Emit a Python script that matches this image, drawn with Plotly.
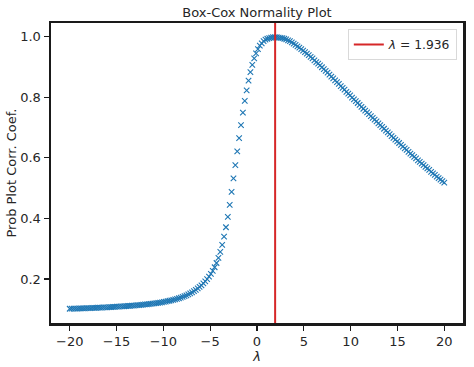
import numpy as np
import plotly.graph_objects as go

# ---- data ----
lambda_min = -20.0
lambda_max = 20.0
n_lambdas = 200
lambdas = np.linspace(lambda_min, lambda_max, n_lambdas)

ppcc = [
    0.1020, 0.1022, 0.1024, 0.1026, 0.1028, 0.1030, 0.1032, 0.1034, 0.1036, 0.1038,
    0.1041, 0.1043, 0.1046, 0.1048, 0.1051, 0.1054, 0.1057, 0.1060, 0.1063, 0.1066,
    0.1069, 0.1072, 0.1076, 0.1079, 0.1083, 0.1087, 0.1091, 0.1095, 0.1099, 0.1103,
    0.1108, 0.1112, 0.1117, 0.1122, 0.1127, 0.1132, 0.1138, 0.1143, 0.1149, 0.1155,
    0.1161, 0.1168, 0.1175, 0.1182, 0.1189, 0.1197, 0.1205, 0.1214, 0.1223, 0.1233,
    0.1245, 0.1257, 0.1270, 0.1284, 0.1298, 0.1314, 0.1330, 0.1348, 0.1367, 0.1388,
    0.1410, 0.1436, 0.1464, 0.1495, 0.1528, 0.1563, 0.1602, 0.1644, 0.1690, 0.1740,
    0.1795, 0.1855, 0.1920, 0.1995, 0.2080, 0.2170, 0.2270, 0.2390, 0.2530, 0.2700,
    0.2900, 0.3130, 0.3400, 0.3710, 0.4050, 0.4450, 0.4880, 0.5320, 0.5760, 0.6210,
    0.6650, 0.7080, 0.7490, 0.7880, 0.8230, 0.8550, 0.8830, 0.9070, 0.9280, 0.9450,
    0.9590, 0.9700, 0.9780, 0.9850, 0.9900, 0.9930, 0.9950, 0.9970, 0.9980, 0.9980,
    0.9980, 0.9970, 0.9960, 0.9950, 0.9930, 0.9910, 0.9880, 0.9850, 0.9810, 0.9770,
    0.9730, 0.9680, 0.9640, 0.9590, 0.9540, 0.9490, 0.9440, 0.9390, 0.9330, 0.9280,
    0.9220, 0.9160, 0.9110, 0.9050, 0.8990, 0.8930, 0.8870, 0.8810, 0.8750, 0.8680,
    0.8620, 0.8560, 0.8500, 0.8440, 0.8370, 0.8310, 0.8250, 0.8180, 0.8120, 0.8060,
    0.7990, 0.7930, 0.7870, 0.7810, 0.7750, 0.7680, 0.7620, 0.7560, 0.7500, 0.7440,
    0.7380, 0.7320, 0.7260, 0.7200, 0.7140, 0.7080, 0.7020, 0.6960, 0.6900, 0.6840,
    0.6780, 0.6720, 0.6660, 0.6600, 0.6540, 0.6490, 0.6430, 0.6370, 0.6310, 0.6260,
    0.6200, 0.6140, 0.6090, 0.6030, 0.5980, 0.5920, 0.5870, 0.5810, 0.5760, 0.5700,
    0.5650, 0.5600, 0.5540, 0.5490, 0.5440, 0.5380, 0.5330, 0.5280, 0.5230, 0.5180,
]

lambda_opt = 1.936

x_tick_vals = [-20, -15, -10, -5, 0, 5, 10, 15, 20]
x_tick_text = ["\u221220", "\u221215", "\u221210", "\u22125", "0", "5", "10", "15", "20"]
y_tick_vals = [0.2, 0.4, 0.6, 0.8, 1.0]
y_tick_text = ["0.2", "0.4", "0.6", "0.8", "1.0"]

# ---- figure ----
FONT = "DejaVu Sans"
TXT = "#262626"
SPINE = "#1a1a1a"
FS = 13

fig = go.Figure()
fig.add_trace(go.Scatter(
    x=lambdas, y=ppcc, mode="markers", showlegend=False, hoverinfo="skip",
    marker=dict(symbol="x-thin", size=5.5, color="#1f77b4",
                line=dict(color="#1f77b4", width=1.1)),
))

fig.add_vline(x=lambda_opt, line=dict(color="#d62728", width=2),
              layer="above", showlegend=True,
              name="<i>λ</i> = " + f"{lambda_opt:.3f}")

fig.update_layout(
    width=474, height=367,
    margin=dict(l=51, r=11, t=23, b=44),
    paper_bgcolor="white", plot_bgcolor="white",
    font=dict(family=FONT, size=FS, color=TXT),
    title=dict(text="Box-Cox Normality Plot", x=257 / 474, xanchor="center",
               y=1 - 12 / 367, yanchor="middle", yref="container",
               font=dict(size=FS, color=TXT)),
    showlegend=True,
    hovermode=False,
    legend=dict(x=0.985, y=0.98, xanchor="right", yanchor="top",
                bgcolor="rgba(255,255,255,0.9)", bordercolor="#d9d9d9",
                borderwidth=1, font=dict(size=12.3, color=TXT),
                itemwidth=30, tracegroupgap=0),
    xaxis=dict(range=[-22, 22], tickmode="array", tickvals=x_tick_vals,
               ticktext=x_tick_text, ticks="outside", ticklen=5, tickwidth=1.2,
               tickcolor=SPINE, showline=True, linecolor=SPINE, linewidth=2.5,
               mirror=True, showgrid=False, zeroline=False, automargin=False,
               title=dict(text="<i>λ</i>", standoff=2, font=dict(size=FS))),
    yaxis=dict(range=[0.055, 1.045], tickmode="array", tickvals=y_tick_vals,
               ticktext=y_tick_text, ticks="outside", ticklen=5, tickwidth=1.2,
               tickcolor=SPINE, showline=True, linecolor=SPINE, linewidth=2.5,
               mirror=True, showgrid=False, zeroline=False, automargin=False,
               title=dict(text="Prob Plot Corr. Coef.", standoff=1,
                          font=dict(size=FS))),
)

fig.write_html(
    "out.html",
    config={"displayModeBar": False, "staticPlot": True},
    post_script="document.body.style.margin='0';document.body.style.overflow='hidden';",
)
